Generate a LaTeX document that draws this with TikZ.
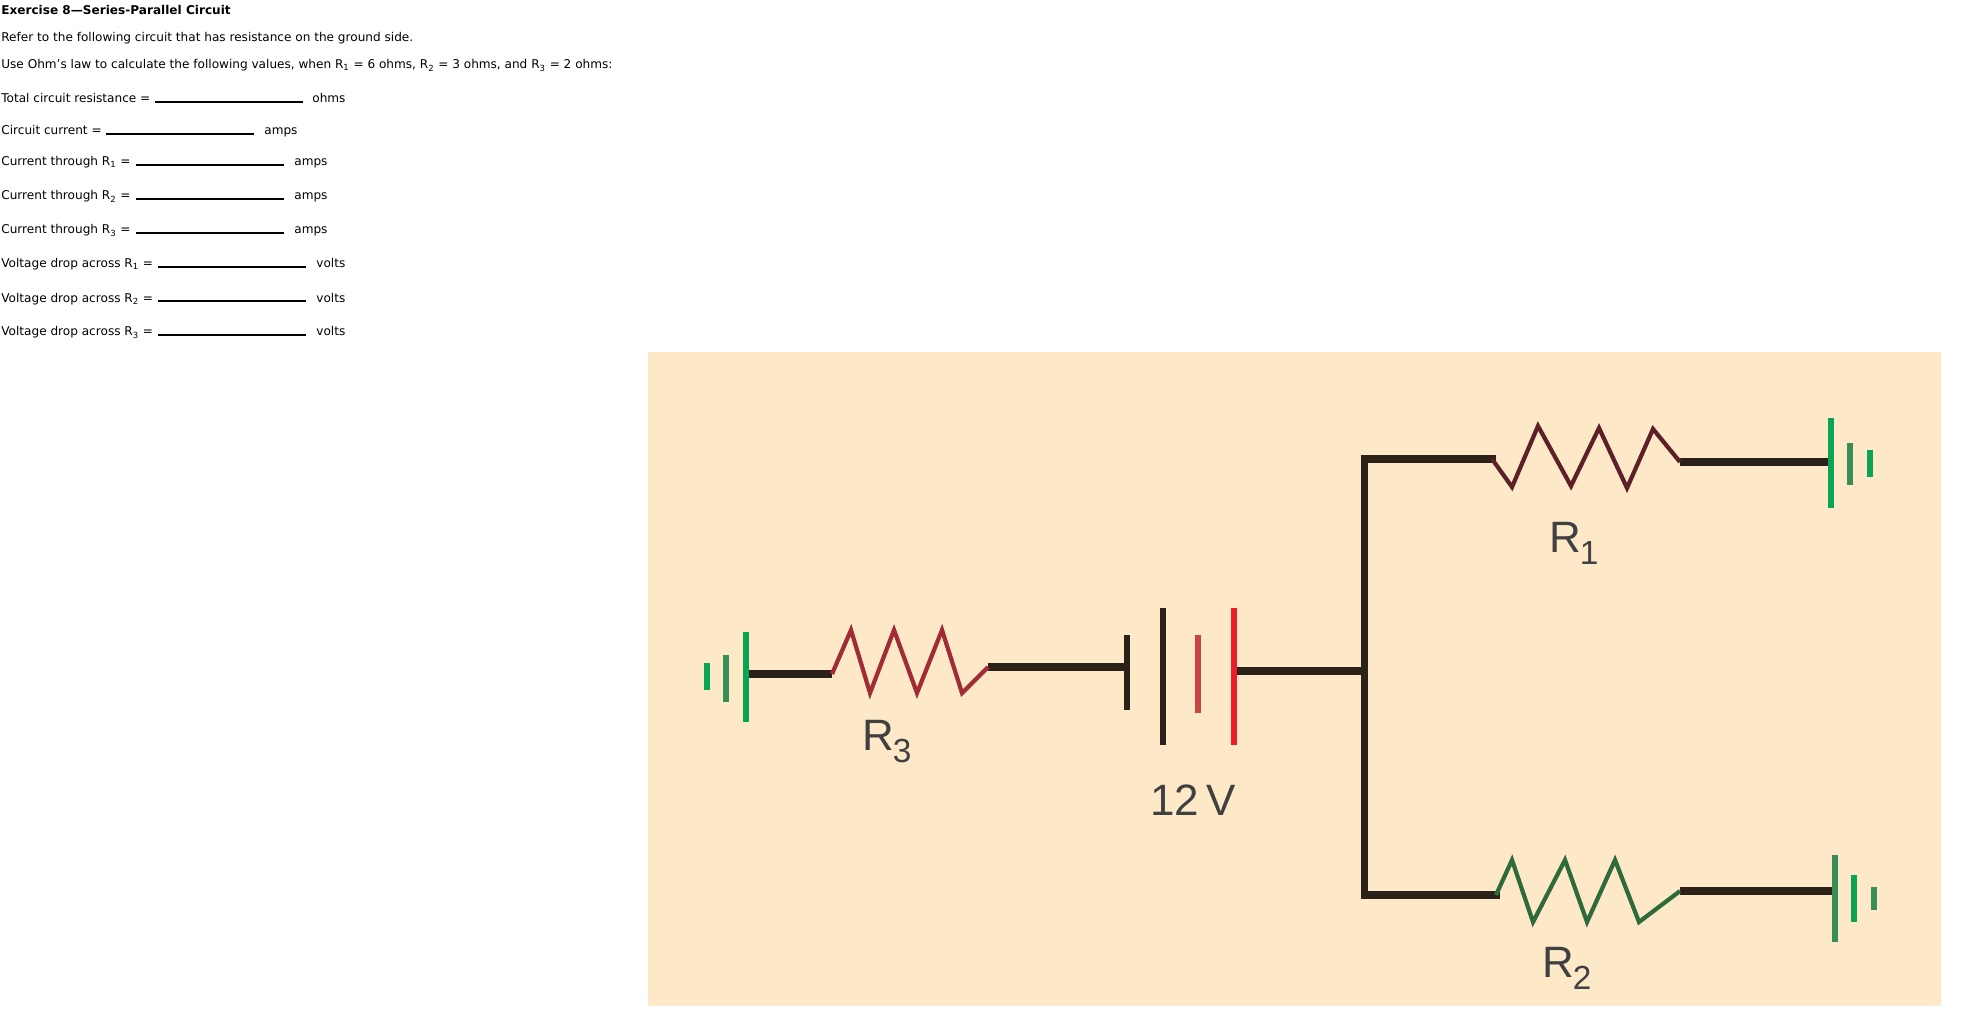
\documentclass[tikz,border=0pt]{standalone}
\usepackage{fontspec}
\setmainfont{DejaVu Sans}
\newfontfamily\labelfont{Liberation Sans}
\usetikzlibrary{positioning}
\definecolor{panel}{HTML}{FDE8C8}
\definecolor{wirecol}{HTML}{2A2118}
\definecolor{gndgreen}{HTML}{0BA354}
\definecolor{gndmid}{HTML}{3A8C58}
\definecolor{batred}{HTML}{ED1C2A}
\definecolor{batmid}{HTML}{C9453F}
\definecolor{zigone}{HTML}{5E2028}
\definecolor{zigtwo}{HTML}{2F6B3A}
\definecolor{zigthree}{HTML}{A02C36}
\providecommand{\lblsub}[2]{#1\raisebox{-0.28em}{\kern-0.03em\fontsize{19pt}{19pt}\selectfont #2}}
\tikzset{
  txt/.style={anchor=base west,inner sep=0pt,font=\fontsize{6.88pt}{8pt}\selectfont},
  blank/.style={color=black,line width=1.15pt},
  wire/.style={color=wirecol,line width=4pt},
  zig/.style={line width=2.4pt,miter limit=10},
  bar/.style={line width=3.6pt},
  lbl/.style={inner sep=0pt,anchor=base west,color=black!75,font=\labelfont\fontsize{25pt}{25pt}\selectfont}
}

\begin{document}
\begin{tikzpicture}[x=0.02cm,y=-0.02cm]
\useasboundingbox (0,0) rectangle (1966,1020);
\fill[panel] (648,352) rectangle (1941,1006);

\node[txt] (title) at (1,15) {\textbf{Exercise 8—Series-Parallel Circuit}};
\node[txt] (intro) at (1,42) {Refer to the following circuit that has resistance on the ground side.};
\node[txt] (given) at (1,69) {Use Ohm’s law to calculate the following values, when R\textsubscript{1} = 6 ohms, R\textsubscript{2} = 3 ohms, and R\textsubscript{3} = 2 ohms:};

\foreach \name/\y/\ly/\xa/\xb/\xu/\ask/\unit in {
  total/103/102/155/303/312/{Total circuit resistance =}/ohms,
  circ/135/134/106/254/264/{Circuit current =}/amps,
  ione/166/165/136/284/294/{Current through R\textsubscript{1} =}/amps,
  itwo/200/199/136/284/294/{Current through R\textsubscript{2} =}/amps,
  ithree/234/233/136/284/294/{Current through R\textsubscript{3} =}/amps,
  vone/268/267/158/306/316/{Voltage drop across R\textsubscript{1} =}/volts,
  vtwo/302/301/158/306/316/{Voltage drop across R\textsubscript{2} =}/volts,
  vthree/336/335/158/306/316/{Voltage drop across R\textsubscript{3} =}/volts}{
  \node[txt] (\name) at (1,\y) {\ask};
  \node[txt] (\name u) at (\xu,\y) {\unit};
  \draw[blank] (\xa,\ly)--(\xb,\ly);
}

\coordinate (G3) at (746,674);
\coordinate (R3a) at (832,674);
\coordinate (R3b) at (988,667);
\coordinate (BN) at (1127,667);
\coordinate (BP) at (1234,671);
\coordinate (J) at (1364,671);
\coordinate (T) at (1364,459);
\coordinate (B) at (1364,895);
\coordinate (R1a) at (1492,459);
\coordinate (R1b) at (1680,462);
\coordinate (G1) at (1831,462);
\coordinate (R2a) at (1496,895);
\coordinate (R2b) at (1680,891);
\coordinate (G2) at (1835,891);

\draw[wire] (G3)--(R3a);
\draw[wire] (R3b)--(BN);
\draw[wire] (BP)--(J);
\draw[wire,line cap=rect] (R1a)--(T)--(B)--(R2a);
\draw[wire] (R1b)--(G1);
\draw[wire] (R2b)--(G2);

\draw[zig,color=zigthree] (R3a)--(851,630)--(870,693)--(894,630)--(917,693)--(942,630)--(962,693)--(R3b);
\draw[zig,color=zigone] (R1a)--(1512,487)--(1538,426)--(1571,486)--(1599,428)--(1627,488)--(1653,429)--(R1b);
\draw[zig,color=zigtwo] (R2a)--(1512,860)--(1533,922)--(1565,860)--(1587,922)--(1615,860)--(1639,922)--(R2b);

\draw[bar,color=gndgreen] (746,632)--(746,722);
\draw[bar,color=gndmid] (726,655)--(726,702);
\draw[bar,color=gndgreen] (707,663)--(707,690);
\draw[bar,color=gndgreen] (1831,418)--(1831,508);
\draw[bar,color=gndmid] (1850,443)--(1850,485);
\draw[bar,color=gndgreen] (1870,450)--(1870,477);
\draw[bar,color=gndmid] (1835,855)--(1835,942);
\draw[bar,color=gndgreen] (1854,875)--(1854,922);
\draw[bar,color=gndmid] (1874,887)--(1874,910);

\draw[bar,color=wirecol] (1127,635)--(1127,710);
\draw[bar,color=wirecol] (1163,608)--(1163,745);
\draw[bar,color=batmid] (1198,635)--(1198,713);
\draw[bar,color=batred] (1234,608)--(1234,745);

\node[lbl] (R1) at (1549,552) {\lblsub{R}{1}};
\node[lbl] (R2) at (1542,977) {\lblsub{R}{2}};
\node[lbl] (R3) at (862,750) {\lblsub{R}{3}};
\node[lbl] (V12) at (1150,815) {12\,V};
\end{tikzpicture}
\end{document}
